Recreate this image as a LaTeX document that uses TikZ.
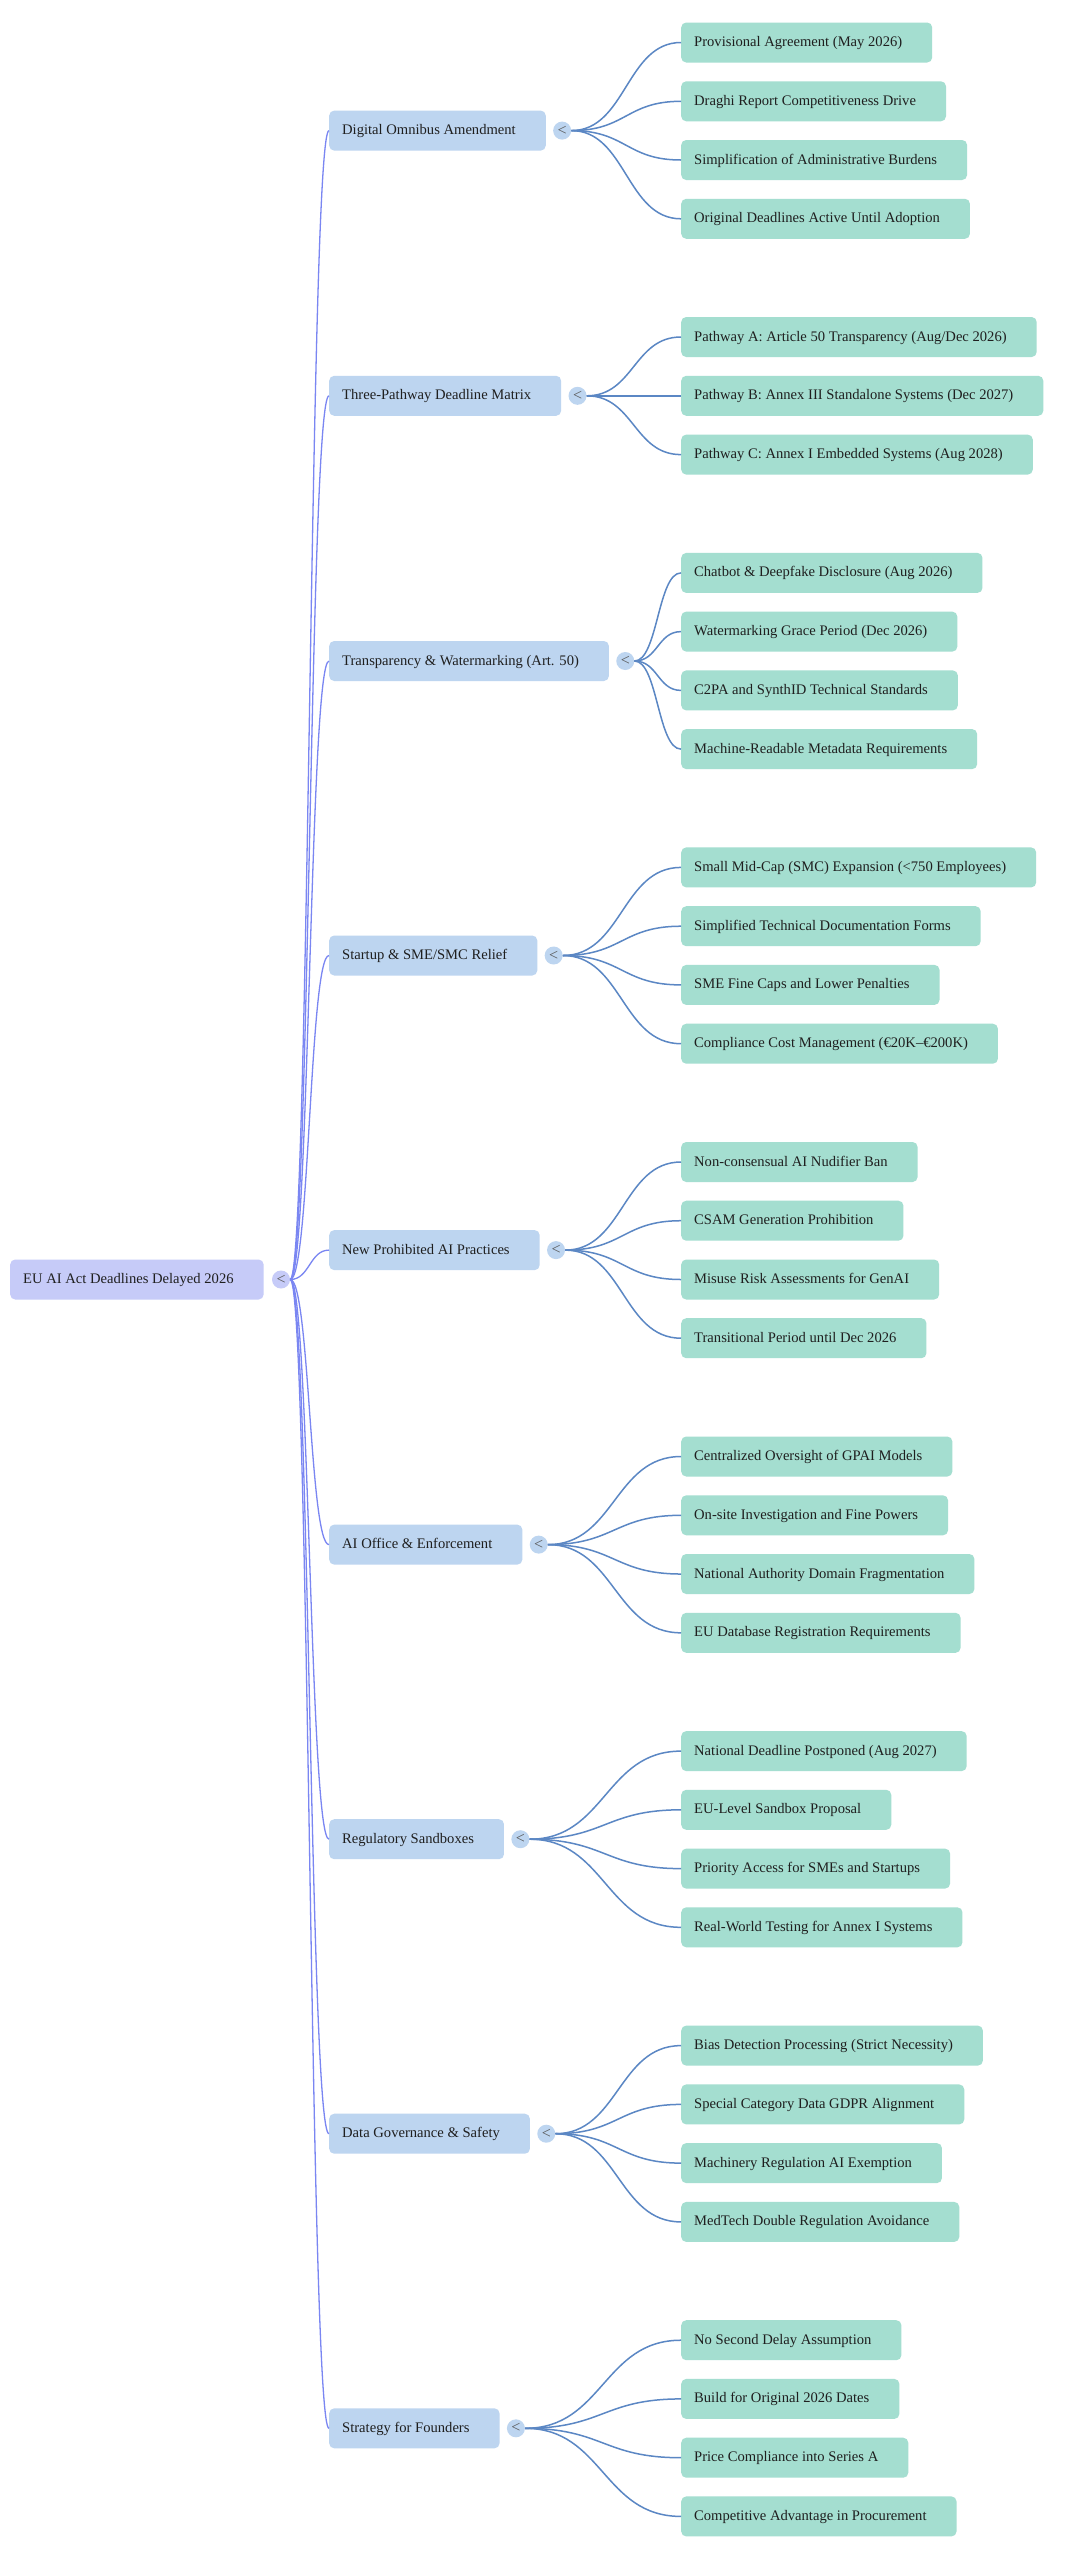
\documentclass[tikz,border=0pt]{standalone}
\usepackage{fontspec}
\setmainfont{Liberation Serif}
\usetikzlibrary{positioning,calc}

\definecolor{rootfill}{HTML}{C6CBF8}
\definecolor{branchfill}{HTML}{BDD5F0}
\definecolor{leaffill}{HTML}{A4DED0}
\definecolor{rootline}{HTML}{7A86F2}
\definecolor{leafline}{HTML}{5B87C4}

\begin{document}
\begin{tikzpicture}[
    x=1pt, y=-1pt,
    font=\fontsize{14.6}{17}\selectfont,
    box/.style={rectangle, rounded corners=5pt, minimum height=40pt, inner xsep=13pt, text height=11pt, text depth=3pt, anchor=west, text=black!88, execute at end node={\hspace{17pt}}},
    topic/.style={box, fill=rootfill},
    branch/.style={box, fill=branchfill},
    leaf/.style={box, fill=leaffill},
    toggle/.style={circle, inner sep=0pt, minimum size=18pt, text=black!65, font=\fontsize{16}{16}\selectfont},
    link/.style={to path={let \p1=(\tikztostart), \p2=(\tikztotarget) in (\p1) .. controls ({(\x1+\x2)/2},\y1) and ({(\x1+\x2)/2},\y2) .. (\p2)}},
    rootlink/.style={link, draw=rootline, line width=1.3pt},
    leaflink/.style={link, draw=leafline, line width=1.5pt}
]
    \fill[white] (0,0) rectangle (1084,2560);
    \useasboundingbox (0,0) rectangle (1084,2560);

    % Root
    \node[topic] (root) at (10,1279.5) {EU AI Act Deadlines Delayed 2026};
    \node[toggle, fill=rootfill, right=8pt of root] (roottgl) {<};

    % Branches
    \node[branch] (omnibus) at (329,130.6) {Digital Omnibus Amendment};
    \node[branch] (matrix) at (329,395.8) {Three-Pathway Deadline Matrix};
    \node[branch] (transp) at (329,661) {Transparency \& Watermarking (Art. 50)};
    \node[branch] (sme) at (329,955.5) {Startup \& SME/SMC Relief};
    \node[branch] (banned) at (329,1250.1) {New Prohibited AI Practices};
    \node[branch] (office) at (329,1544.6) {AI Office \& Enforcement};
    \node[branch] (sandbox) at (329,1839.2) {Regulatory Sandboxes};
    \node[branch] (data) at (329,2133.7) {Data Governance \& Safety};
    \node[branch] (founders) at (329,2428.3) {Strategy for Founders};

    % Toggles
    \node[toggle, fill=branchfill, right=7pt of omnibus] (omnibustgl) {<};
    \node[toggle, fill=branchfill, right=7pt of matrix] (matrixtgl) {<};
    \node[toggle, fill=branchfill, right=7pt of transp] (transptgl) {<};
    \node[toggle, fill=branchfill, right=7pt of sme] (smetgl) {<};
    \node[toggle, fill=branchfill, right=7pt of banned] (bannedtgl) {<};
    \node[toggle, fill=branchfill, right=7pt of office] (officetgl) {<};
    \node[toggle, fill=branchfill, right=7pt of sandbox] (sandboxtgl) {<};
    \node[toggle, fill=branchfill, right=7pt of data] (datatgl) {<};
    \node[toggle, fill=branchfill, right=7pt of founders] (founderstgl) {<};

    % Root -> branches
    \draw[rootlink] (roottgl.east) to (omnibus.west);
    \draw[rootlink] (roottgl.east) to (matrix.west);
    \draw[rootlink] (roottgl.east) to (transp.west);
    \draw[rootlink] (roottgl.east) to (sme.west);
    \draw[rootlink] (roottgl.east) to (banned.west);
    \draw[rootlink] (roottgl.east) to (office.west);
    \draw[rootlink] (roottgl.east) to (sandbox.west);
    \draw[rootlink] (roottgl.east) to (data.west);
    \draw[rootlink] (roottgl.east) to (founders.west);

    % Digital Omnibus
    \node[leaf] (omnibus1) at (681,42.5) {Provisional Agreement (May 2026)};
    \node[leaf] (omnibus2) at (681,101.3) {Draghi Report Competitiveness Drive};
    \node[leaf] (omnibus3) at (681,160) {Simplification of Administrative Burdens};
    \node[leaf] (omnibus4) at (681,218.8) {Original Deadlines Active Until Adoption};
    \draw[leaflink] (omnibustgl.east) to (omnibus1.west);
    \draw[leaflink] (omnibustgl.east) to (omnibus2.west);
    \draw[leaflink] (omnibustgl.east) to (omnibus3.west);
    \draw[leaflink] (omnibustgl.east) to (omnibus4.west);

    % Deadline matrix
    \node[leaf] (matrix1) at (681,337) {Pathway A: Article 50 Transparency (Aug/Dec 2026)};
    \node[leaf] (matrix2) at (681,395.8) {Pathway B: Annex III Standalone Systems (Dec 2027)};
    \node[leaf] (matrix3) at (681,454.6) {Pathway C: Annex I Embedded Systems (Aug 2028)};
    \draw[leaflink] (matrixtgl.east) to (matrix1.west);
    \draw[leaflink] (matrixtgl.east) to (matrix2.west);
    \draw[leaflink] (matrixtgl.east) to (matrix3.west);

    % Transparency
    \node[leaf] (transp1) at (681,572.9) {Chatbot \& Deepfake Disclosure (Aug 2026)};
    \node[leaf] (transp2) at (681,631.6) {Watermarking Grace Period (Dec 2026)};
    \node[leaf] (transp3) at (681,690.4) {C2PA and SynthID Technical Standards};
    \node[leaf] (transp4) at (681,749.1) {Machine-Readable Metadata Requirements};
    \draw[leaflink] (transptgl.east) to (transp1.west);
    \draw[leaflink] (transptgl.east) to (transp2.west);
    \draw[leaflink] (transptgl.east) to (transp3.west);
    \draw[leaflink] (transptgl.east) to (transp4.west);

    % Startup relief
    \node[leaf] (sme1) at (681,867.4) {Small Mid-Cap (SMC) Expansion (<750 Employees)};
    \node[leaf] (sme2) at (681,926.2) {Simplified Technical Documentation Forms};
    \node[leaf] (sme3) at (681,984.9) {SME Fine Caps and Lower Penalties};
    \node[leaf] (sme4) at (681,1043.7) {Compliance Cost Management (€20K–€200K)};
    \draw[leaflink] (smetgl.east) to (sme1.west);
    \draw[leaflink] (smetgl.east) to (sme2.west);
    \draw[leaflink] (smetgl.east) to (sme3.west);
    \draw[leaflink] (smetgl.east) to (sme4.west);

    % Prohibited practices
    \node[leaf] (banned1) at (681,1162) {Non-consensual AI Nudifier Ban};
    \node[leaf] (banned2) at (681,1220.7) {CSAM Generation Prohibition};
    \node[leaf] (banned3) at (681,1279.5) {Misuse Risk Assessments for GenAI};
    \node[leaf] (banned4) at (681,1338.2) {Transitional Period until Dec 2026};
    \draw[leaflink] (bannedtgl.east) to (banned1.west);
    \draw[leaflink] (bannedtgl.east) to (banned2.west);
    \draw[leaflink] (bannedtgl.east) to (banned3.west);
    \draw[leaflink] (bannedtgl.east) to (banned4.west);

    % AI Office
    \node[leaf] (office1) at (681,1456.5) {Centralized Oversight of GPAI Models};
    \node[leaf] (office2) at (681,1515.3) {On-site Investigation and Fine Powers};
    \node[leaf] (office3) at (681,1574) {National Authority Domain Fragmentation};
    \node[leaf] (office4) at (681,1632.8) {EU Database Registration Requirements};
    \draw[leaflink] (officetgl.east) to (office1.west);
    \draw[leaflink] (officetgl.east) to (office2.west);
    \draw[leaflink] (officetgl.east) to (office3.west);
    \draw[leaflink] (officetgl.east) to (office4.west);

    % Sandboxes
    \node[leaf] (sandbox1) at (681,1751.1) {National Deadline Postponed (Aug 2027)};
    \node[leaf] (sandbox2) at (681,1809.8) {EU-Level Sandbox Proposal};
    \node[leaf] (sandbox3) at (681,1868.6) {Priority Access for SMEs and Startups};
    \node[leaf] (sandbox4) at (681,1927.3) {Real-World Testing for Annex I Systems};
    \draw[leaflink] (sandboxtgl.east) to (sandbox1.west);
    \draw[leaflink] (sandboxtgl.east) to (sandbox2.west);
    \draw[leaflink] (sandboxtgl.east) to (sandbox3.west);
    \draw[leaflink] (sandboxtgl.east) to (sandbox4.west);

    % Data governance
    \node[leaf] (data1) at (681,2045.6) {Bias Detection Processing (Strict Necessity)};
    \node[leaf] (data2) at (681,2104.4) {Special Category Data GDPR Alignment};
    \node[leaf] (data3) at (681,2163.1) {Machinery Regulation AI Exemption};
    \node[leaf] (data4) at (681,2221.9) {MedTech Double Regulation Avoidance};
    \draw[leaflink] (datatgl.east) to (data1.west);
    \draw[leaflink] (datatgl.east) to (data2.west);
    \draw[leaflink] (datatgl.east) to (data3.west);
    \draw[leaflink] (datatgl.east) to (data4.west);

    % Founders
    \node[leaf] (founders1) at (681,2340.2) {No Second Delay Assumption};
    \node[leaf] (founders2) at (681,2398.9) {Build for Original 2026 Dates};
    \node[leaf] (founders3) at (681,2457.7) {Price Compliance into Series A};
    \node[leaf] (founders4) at (681,2516.4) {Competitive Advantage in Procurement};
    \draw[leaflink] (founderstgl.east) to (founders1.west);
    \draw[leaflink] (founderstgl.east) to (founders2.west);
    \draw[leaflink] (founderstgl.east) to (founders3.west);
    \draw[leaflink] (founderstgl.east) to (founders4.west);

\end{tikzpicture}
\end{document}
